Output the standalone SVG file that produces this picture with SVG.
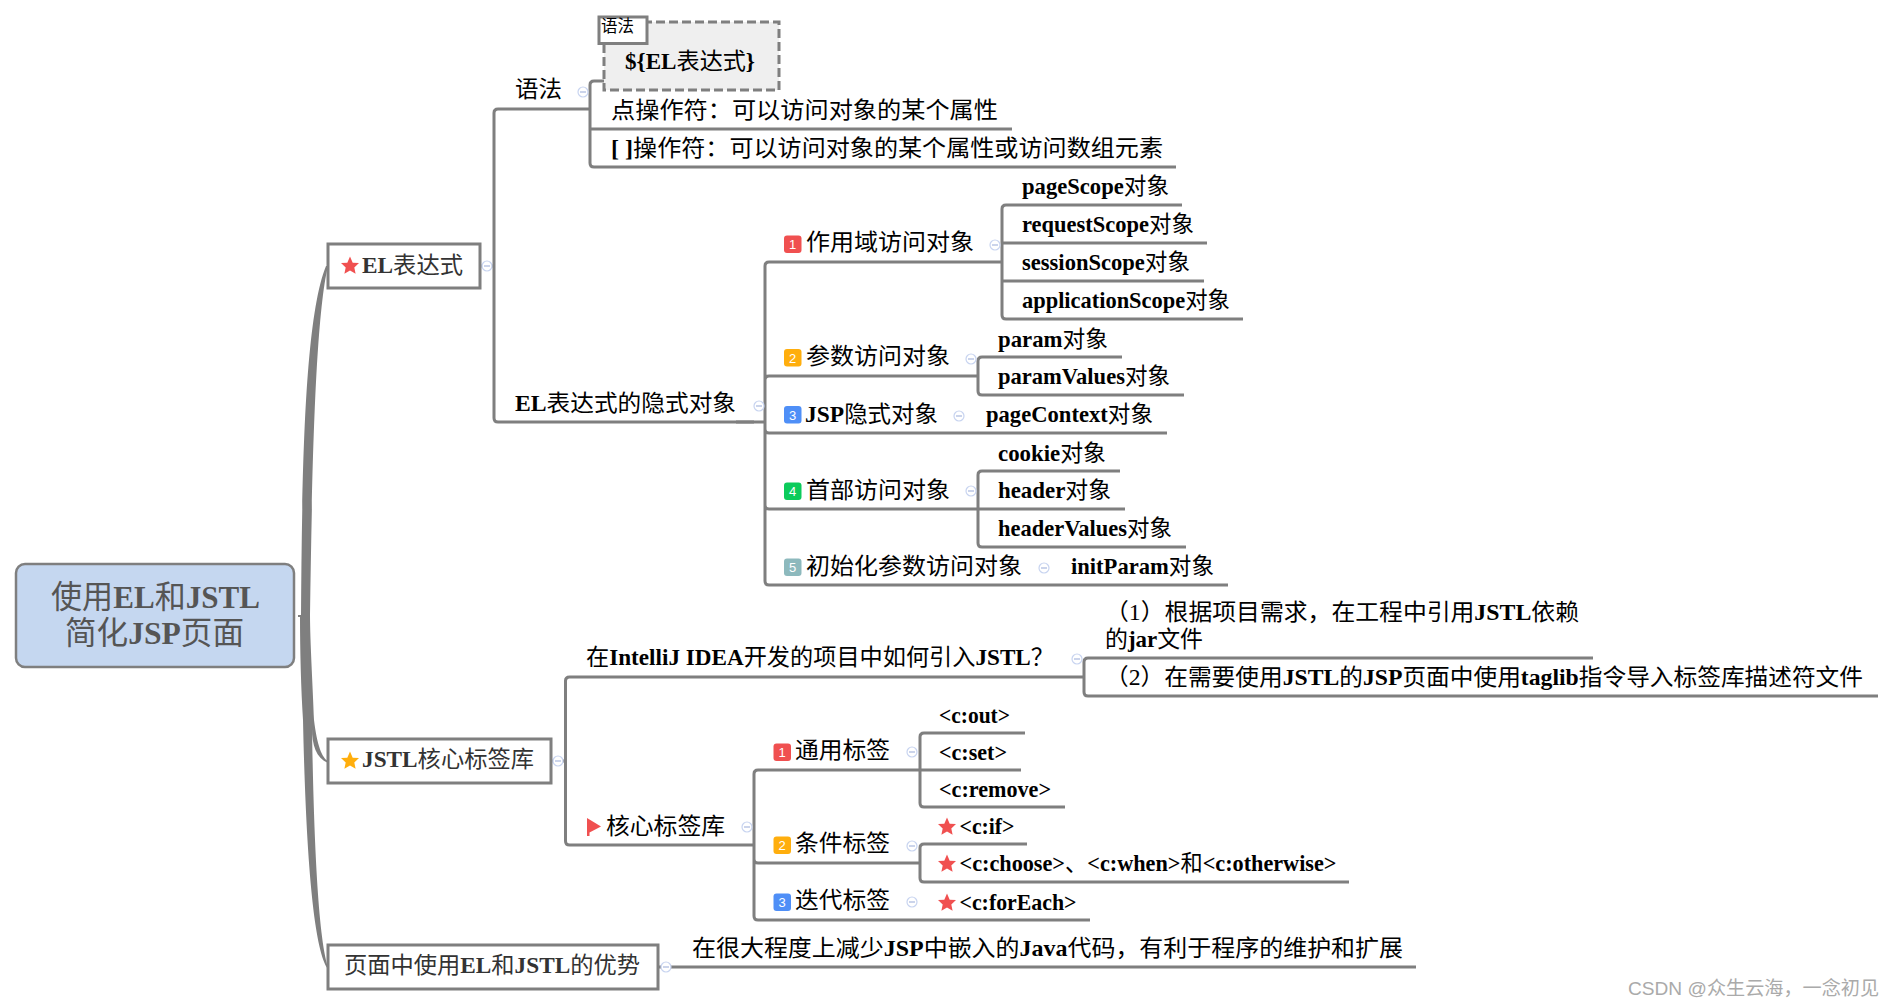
<svg xmlns="http://www.w3.org/2000/svg" xmlns:xlink="http://www.w3.org/1999/xlink" width="1895" height="1006" viewBox="0 0 1895 1006">
<style>
text{font-family:"Liberation Serif","Noto Sans CJK SC",serif;font-size:23px;fill:#000}
tspan{font-weight:bold}
.l1{fill:#333}
.root{font-size:32px;fill:#555}
.wm{font-family:"Liberation Sans","Noto Sans CJK SC",sans-serif;font-size:19px;fill:#aaa}
.tag{font-size:17px;font-family:"Noto Sans CJK SC",sans-serif}
.dg{font-family:"Liberation Sans",sans-serif;font-size:13px;fill:#fff;text-anchor:middle}
.c{fill:none;stroke:#7f7f7f;stroke-width:3}
.box{fill:#fff;stroke:#7f7f7f;stroke-width:3}
.red{fill:#f05050}.org{fill:#ffae0d}.blu{fill:#4f8ff7}.grn{fill:#0ccb5b}.tea{fill:#8db9bd}
</style>
<defs>
<polygon id="star" points="0,-9.500 2.700,-3.300 9,-2.900 4.300,1.400 5.600,7.700 0,4.400 -5.600,7.700 -4.300,1.400 -9,-2.900 -2.700,-3.300"/>
<g id="col"><circle r="5" fill="#fff" stroke="#c8d4f0" stroke-width="1.2"/><path d="M-3,0H3" stroke="#a8b8de" stroke-width="1.2"/></g>
<rect id="ic" width="17.500" height="17.500" rx="3"/>
</defs>
<g id="connectors">
<path fill="#7f7f7f" d="M298,615H301C302,480 304,320 326,266H328C315,320 312,480 310,615C310,640 313,690 314,720C317,745 322,758 328,761V763C316,758 312,745 312,728C313,790 316,930 328,967V969C314,950 306,860 303,720C301,690 300,650 300,617H298Z"/>
<path class="c" d="M480,266H494M498,109H590M494,113V418Q494,422 498,422H754M494,113Q494,109 498,109"/>
<path class="c" d="M768,81H594Q590,81 590,85V163Q590,167 594,167H1176M590,129H1012"/>
<path class="c" d="M736,422H765M769,262H1002M1182,205H1006Q1002,205 1002,209V315Q1002,319 1006,319H1243M1002,243H1207M1002,281H1204"/>
<path class="c" d="M769,262Q765,262 765,266V581Q765,585 769,585H1228M769,376Q765,376 765,380M769,376H978M765,429Q765,433 769,433H1167M765,505Q765,509 769,509H1125M1122,357H982Q978,357 978,361V391Q978,395 982,395H1184"/>
<path class="c" d="M1120,471H982Q978,471 978,475V543Q978,547 982,547H1186"/>
<path class="c" d="M551,761H565.500M1084,677H569.500Q565.500,677 565.500,681V841Q565.500,845 569.500,845H754M1593,658H1088Q1084,658 1084,662V692Q1084,696 1088,696H1878"/>
<path class="c" d="M1021,770H758Q754,770 754,774V916Q754,920 758,920H1090M754,859Q754,863 758,863H920"/>
<path class="c" d="M1025,733H924Q920,733 920,737V803Q920,807 924,807H1065M1027,844H924Q920,844 920,848V878Q920,882 924,882H1349M658,967H1416"/>
</g>
<g id="root"><rect x="16" y="564" width="278" height="103" rx="9" fill="#c5d7f0" stroke="#7f7f7f" stroke-width="2.500"/>
<text class="root" x="51" y="608" textLength="209" lengthAdjust="spacingAndGlyphs">使用<tspan>EL</tspan>和<tspan>JSTL</tspan></text>
<text class="root" x="65" y="644" textLength="179" lengthAdjust="spacingAndGlyphs">简化<tspan>JSP</tspan>页面</text></g>
<g id="n-el"><rect class="box" x="328" y="244" width="152" height="44"/><use href="#star" x="350" y="266" class="red"/><text class="l1" x="362" y="273" textLength="101" lengthAdjust="spacingAndGlyphs"><tspan>EL</tspan>表达式</text><use href="#col" x="487" y="266"/></g>
<g id="n-jstl"><rect class="box" x="328" y="739" width="223" height="44"/><use href="#star" x="350" y="761" class="org"/><text class="l1" x="362" y="767" textLength="172" lengthAdjust="spacingAndGlyphs"><tspan>JSTL</tspan>核心标签库</text><use href="#col" x="558" y="761"/></g>
<g id="n-adv"><rect class="box" x="328" y="945" width="330" height="44"/><text class="l1" x="344" y="973" textLength="296" lengthAdjust="spacingAndGlyphs">页面中使用<tspan>EL</tspan>和<tspan>JSTL</tspan>的优势</text><use href="#col" x="666" y="967"/></g>
<g id="n-syntax"><text x="515" y="97" textLength="47" lengthAdjust="spacingAndGlyphs">语法</text><use href="#col" x="583" y="92"/></g>
<g id="n-syntax-note"><rect x="604" y="22" width="175" height="68" fill="#efefef" stroke="#7f7f7f" stroke-width="3" stroke-dasharray="9 4"/><rect x="599" y="17" width="48" height="26.500" fill="#fff" stroke="#7f7f7f" stroke-width="3"/><text class="tag" x="601" y="32" textLength="33" lengthAdjust="spacingAndGlyphs">语法</text></g>
<g id="n-el-expr"><text x="625" y="69" textLength="130" lengthAdjust="spacingAndGlyphs"><tspan>${EL</tspan>表达式<tspan>}</tspan></text></g>
<g id="n-dot"><text x="611" y="118" textLength="387" lengthAdjust="spacingAndGlyphs">点操作符&#xFF1A;可以访问对象的某个属性</text></g>
<g id="n-bracket"><text x="611" y="156" textLength="552" lengthAdjust="spacingAndGlyphs"><tspan>[ ]</tspan>操作符&#xFF1A;可以访问对象的某个属性或访问数组元素</text></g>
<g id="n-implicit"><text x="515" y="411" textLength="221" lengthAdjust="spacingAndGlyphs"><tspan>EL</tspan>表达式的隐式对象</text><use href="#col" x="759" y="406"/></g>
<g id="n-scope"><use href="#ic" x="784" y="235.500" class="red"/><text class="dg" x="792.700" y="249">1</text><text x="806" y="250" textLength="168" lengthAdjust="spacingAndGlyphs">作用域访问对象</text><use href="#col" x="995" y="245"/></g>
<g id="n-pagescope"><text x="1022" y="194" textLength="147" lengthAdjust="spacingAndGlyphs"><tspan>pageScope</tspan>对象</text></g>
<g id="n-requestscope"><text x="1022" y="232" textLength="172" lengthAdjust="spacingAndGlyphs"><tspan>requestScope</tspan>对象</text></g>
<g id="n-sessionscope"><text x="1022" y="270" textLength="168" lengthAdjust="spacingAndGlyphs"><tspan>sessionScope</tspan>对象</text></g>
<g id="n-appscope"><text x="1022" y="308" textLength="208" lengthAdjust="spacingAndGlyphs"><tspan>applicationScope</tspan>对象</text></g>
<g id="n-param"><use href="#ic" x="784" y="349" class="org"/><text class="dg" x="792.700" y="362.500">2</text><text x="806" y="364" textLength="144" lengthAdjust="spacingAndGlyphs">参数访问对象</text><use href="#col" x="971" y="359"/></g>
<g id="n-paramobj"><text x="998" y="347" textLength="110" lengthAdjust="spacingAndGlyphs"><tspan>param</tspan>对象</text></g>
<g id="n-paramvalues"><text x="998" y="384" textLength="172" lengthAdjust="spacingAndGlyphs"><tspan>paramValues</tspan>对象</text></g>
<g id="n-jsp"><use href="#ic" x="784" y="406" class="blu"/><text class="dg" x="792.700" y="419.500">3</text><text x="805" y="422" textLength="133" lengthAdjust="spacingAndGlyphs"><tspan>JSP</tspan>隐式对象</text><use href="#col" x="959" y="416"/></g>
<g id="n-pagecontext"><text x="986" y="422" textLength="167" lengthAdjust="spacingAndGlyphs"><tspan>pageContext</tspan>对象</text></g>
<g id="n-header"><use href="#ic" x="784" y="482.500" class="grn"/><text class="dg" x="792.700" y="496">4</text><text x="806" y="498" textLength="144" lengthAdjust="spacingAndGlyphs">首部访问对象</text><use href="#col" x="971" y="491"/></g>
<g id="n-cookie"><text x="998" y="461" textLength="108" lengthAdjust="spacingAndGlyphs"><tspan>cookie</tspan>对象</text></g>
<g id="n-headerobj"><text x="998" y="498" textLength="113" lengthAdjust="spacingAndGlyphs"><tspan>header</tspan>对象</text></g>
<g id="n-headervalues"><text x="998" y="536" textLength="174" lengthAdjust="spacingAndGlyphs"><tspan>headerValues</tspan>对象</text></g>
<g id="n-init"><use href="#ic" x="784" y="558.500" class="tea"/><text class="dg" x="792.700" y="572">5</text><text x="806" y="574" textLength="216" lengthAdjust="spacingAndGlyphs">初始化参数访问对象</text><use href="#col" x="1044" y="568"/></g>
<g id="n-initparam"><text x="1071" y="574" textLength="143" lengthAdjust="spacingAndGlyphs"><tspan>initParam</tspan>对象</text></g>
<g id="n-import"><text x="586" y="665" textLength="468" lengthAdjust="spacingAndGlyphs">在<tspan>IntelliJ IDEA</tspan>开发的项目中如何引入<tspan>JSTL</tspan>&#xFF1F;</text><use href="#col" x="1077" y="659"/></g>
<g id="n-step1"><text x="1105" y="620" textLength="474" lengthAdjust="spacingAndGlyphs">&#xFF08;1&#xFF09;根据项目需求&#xFF0C;在工程中引用<tspan>JSTL</tspan>依赖</text><text x="1105" y="647" textLength="98" lengthAdjust="spacingAndGlyphs">的<tspan>jar</tspan>文件</text></g>
<g id="n-step2"><text x="1105" y="685" textLength="758" lengthAdjust="spacingAndGlyphs">&#xFF08;2&#xFF09;在需要使用<tspan>JSTL</tspan>的<tspan>JSP</tspan>页面中使用<tspan>taglib</tspan>指令导入标签库描述符文件</text></g>
<g id="n-core"><path class="red" d="M587,818L601,826.500L589.500,832.500V836H587Z"/><text x="606" y="834" textLength="119" lengthAdjust="spacingAndGlyphs">核心标签库</text><use href="#col" x="747" y="827"/></g>
<g id="n-general"><use href="#ic" x="773.500" y="743.500" class="red"/><text class="dg" x="782.200" y="757">1</text><text x="795" y="758" textLength="95" lengthAdjust="spacingAndGlyphs">通用标签</text><use href="#col" x="912" y="752"/></g>
<g id="n-cout"><text x="939" y="722.500" textLength="71" lengthAdjust="spacingAndGlyphs"><tspan>&lt;c:out&gt;</tspan></text></g>
<g id="n-cset"><text x="939" y="759.500" textLength="68" lengthAdjust="spacingAndGlyphs"><tspan>&lt;c:set&gt;</tspan></text></g>
<g id="n-cremove"><text x="939" y="797" textLength="112" lengthAdjust="spacingAndGlyphs"><tspan>&lt;c:remove&gt;</tspan></text></g>
<g id="n-cond"><use href="#ic" x="773.500" y="836.500" class="org"/><text class="dg" x="782.200" y="850">2</text><text x="795" y="851" textLength="95" lengthAdjust="spacingAndGlyphs">条件标签</text><use href="#col" x="912" y="846"/></g>
<g id="n-cif"><use href="#star" x="947" y="827" class="red"/><text x="959.500" y="834" textLength="55" lengthAdjust="spacingAndGlyphs"><tspan>&lt;c:if&gt;</tspan></text></g>
<g id="n-cchoose"><use href="#star" x="947" y="864" class="red"/><text x="959.500" y="871" textLength="377" lengthAdjust="spacingAndGlyphs"><tspan>&lt;c:choose&gt;</tspan>、<tspan>&lt;c:when&gt;</tspan>和<tspan>&lt;c:otherwise&gt;</tspan></text></g>
<g id="n-iter"><use href="#ic" x="773.500" y="893.500" class="blu"/><text class="dg" x="782.200" y="907">3</text><text x="795" y="908" textLength="95" lengthAdjust="spacingAndGlyphs">迭代标签</text><use href="#col" x="912" y="902"/></g>
<g id="n-cforeach"><use href="#star" x="947" y="903" class="red"/><text x="959.500" y="910" textLength="117" lengthAdjust="spacingAndGlyphs"><tspan>&lt;c:forEach&gt;</tspan></text></g>
<g id="n-adv-text"><text x="692" y="955.500" textLength="711" lengthAdjust="spacingAndGlyphs">在很大程度上减少<tspan>JSP</tspan>中嵌入的<tspan>Java</tspan>代码&#xFF0C;有利于程序的维护和扩展</text></g>
<text class="wm" x="1628" y="995" textLength="251" lengthAdjust="spacingAndGlyphs">CSDN @众生云海&#xFF0C;一念初见</text>
</svg>
